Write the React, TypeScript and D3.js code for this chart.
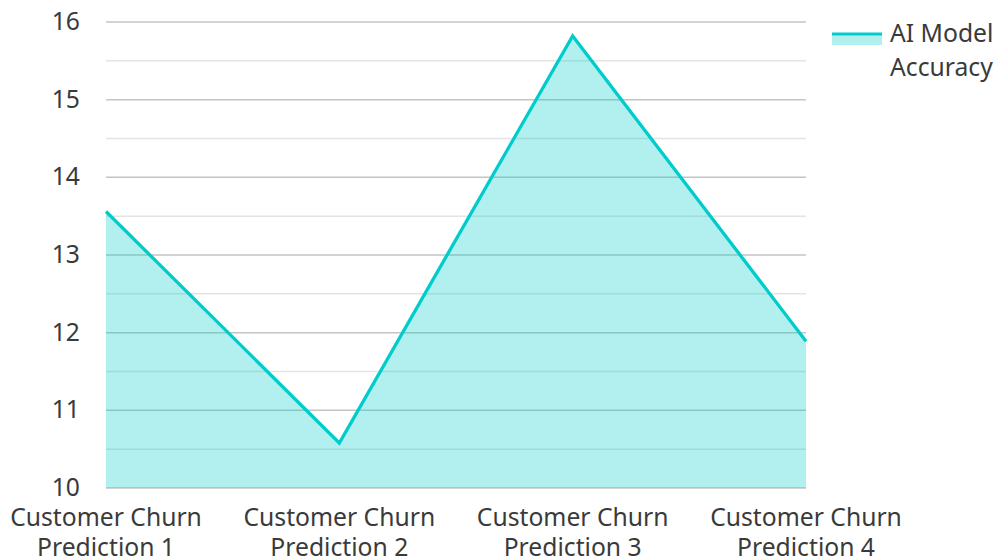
import React, { useEffect, useRef } from 'react'
import * as d3 from 'd3'

const categories = [
  ['Customer Churn', 'Prediction 1'],
  ['Customer Churn', 'Prediction 2'],
  ['Customer Churn', 'Prediction 3'],
  ['Customer Churn', 'Prediction 4'],
]
const accuracy = [13.56, 10.58, 15.82, 11.89]
const yTicks = [10, 11, 12, 13, 14, 15, 16]
const minorTicks = [10.5, 11.5, 12.5, 13.5, 14.5, 15.5]
const seriesName = ['AI Model', 'Accuracy']

const App = () => {
  const ref = useRef<SVGSVGElement>(null)

  useEffect(() => {
    const svg = d3.select(ref.current)
    svg.selectAll('*').remove()
    const width = 997
    const height = 560
    const left = 106
    const right = 806
    const top = 22
    const bottom = 488
    const font = "'Noto Sans', 'Open Sans', sans-serif"
    const fontSize = '24.7px'
    const color = '#00cccc'
    const textColor = '#3a3a3a'

    const x = d3
      .scalePoint<number>()
      .domain(d3.range(categories.length))
      .range([left, right])
    const y = d3.scaleLinear().domain([10, 16]).range([bottom, top])

    svg.attr('width', width).attr('height', height)

    // grid
    svg
      .selectAll('.minor')
      .data(minorTicks)
      .enter()
      .append('line')
      .attr('x1', left)
      .attr('x2', right)
      .attr('y1', d => y(d))
      .attr('y2', d => y(d))
      .attr('stroke', '#e4e4e4')
      .attr('stroke-width', 1.5)
    svg
      .selectAll('.major')
      .data(yTicks)
      .enter()
      .append('line')
      .attr('x1', left)
      .attr('x2', right)
      .attr('y1', d => y(d))
      .attr('y2', d => y(d))
      .attr('stroke', '#c4c4c4')
      .attr('stroke-width', 1.5)

    // area + line
    const area = d3
      .area<number>()
      .x((d, i) => x(i)!)
      .y0(y(10))
      .y1(d => y(d))
    svg
      .append('path')
      .datum(accuracy)
      .attr('d', area)
      .attr('fill', color)
      .attr('fill-opacity', 0.3)

    const line = d3
      .line<number>()
      .x((d, i) => x(i)!)
      .y(d => y(d))
    svg
      .append('path')
      .datum(accuracy)
      .attr('d', line)
      .attr('fill', 'none')
      .attr('stroke', color)
      .attr('stroke-width', 3.3)

    // y labels
    svg
      .selectAll('.ylab')
      .data(yTicks)
      .enter()
      .append('text')
      .attr('x', 80)
      .attr('y', d => y(d) + 8)
      .attr('text-anchor', 'end')
      .style('font-family', font)
      .style('font-size', fontSize)
      .attr('fill', textColor)
      .text(d => d)

    // x labels
    const xl = svg
      .selectAll('.xlab')
      .data(categories)
      .enter()
      .append('text')
      .attr('text-anchor', 'middle')
      .style('font-family', font)
      .style('font-size', fontSize)
      .attr('fill', textColor)
    xl.append('tspan')
      .attr('x', (d, i) => x(i)!)
      .attr('y', 526)
      .text(d => d[0])
    xl.append('tspan')
      .attr('x', (d, i) => x(i)!)
      .attr('y', 556)
      .text(d => d[1])

    // legend
    svg
      .append('rect')
      .attr('x', 832)
      .attr('y', 34)
      .attr('width', 50)
      .attr('height', 11)
      .attr('fill', color)
      .attr('fill-opacity', 0.3)
    svg
      .append('line')
      .attr('x1', 832)
      .attr('x2', 882)
      .attr('y1', 34)
      .attr('y2', 34)
      .attr('stroke', color)
      .attr('stroke-width', 3)
    svg
      .append('text')
      .style('font-family', font)
      .style('font-size', fontSize)
      .attr('fill', textColor)
      .selectAll('tspan')
      .data(seriesName)
      .enter()
      .append('tspan')
      .attr('x', 890)
      .attr('y', (d, i) => 42 + i * 34)
      .text(d => d)
  }, [])

  return (
    <div style={{ position: 'absolute', left: 0, top: 0 }}>
      <svg ref={ref} />
    </div>
  )
}

export default App
